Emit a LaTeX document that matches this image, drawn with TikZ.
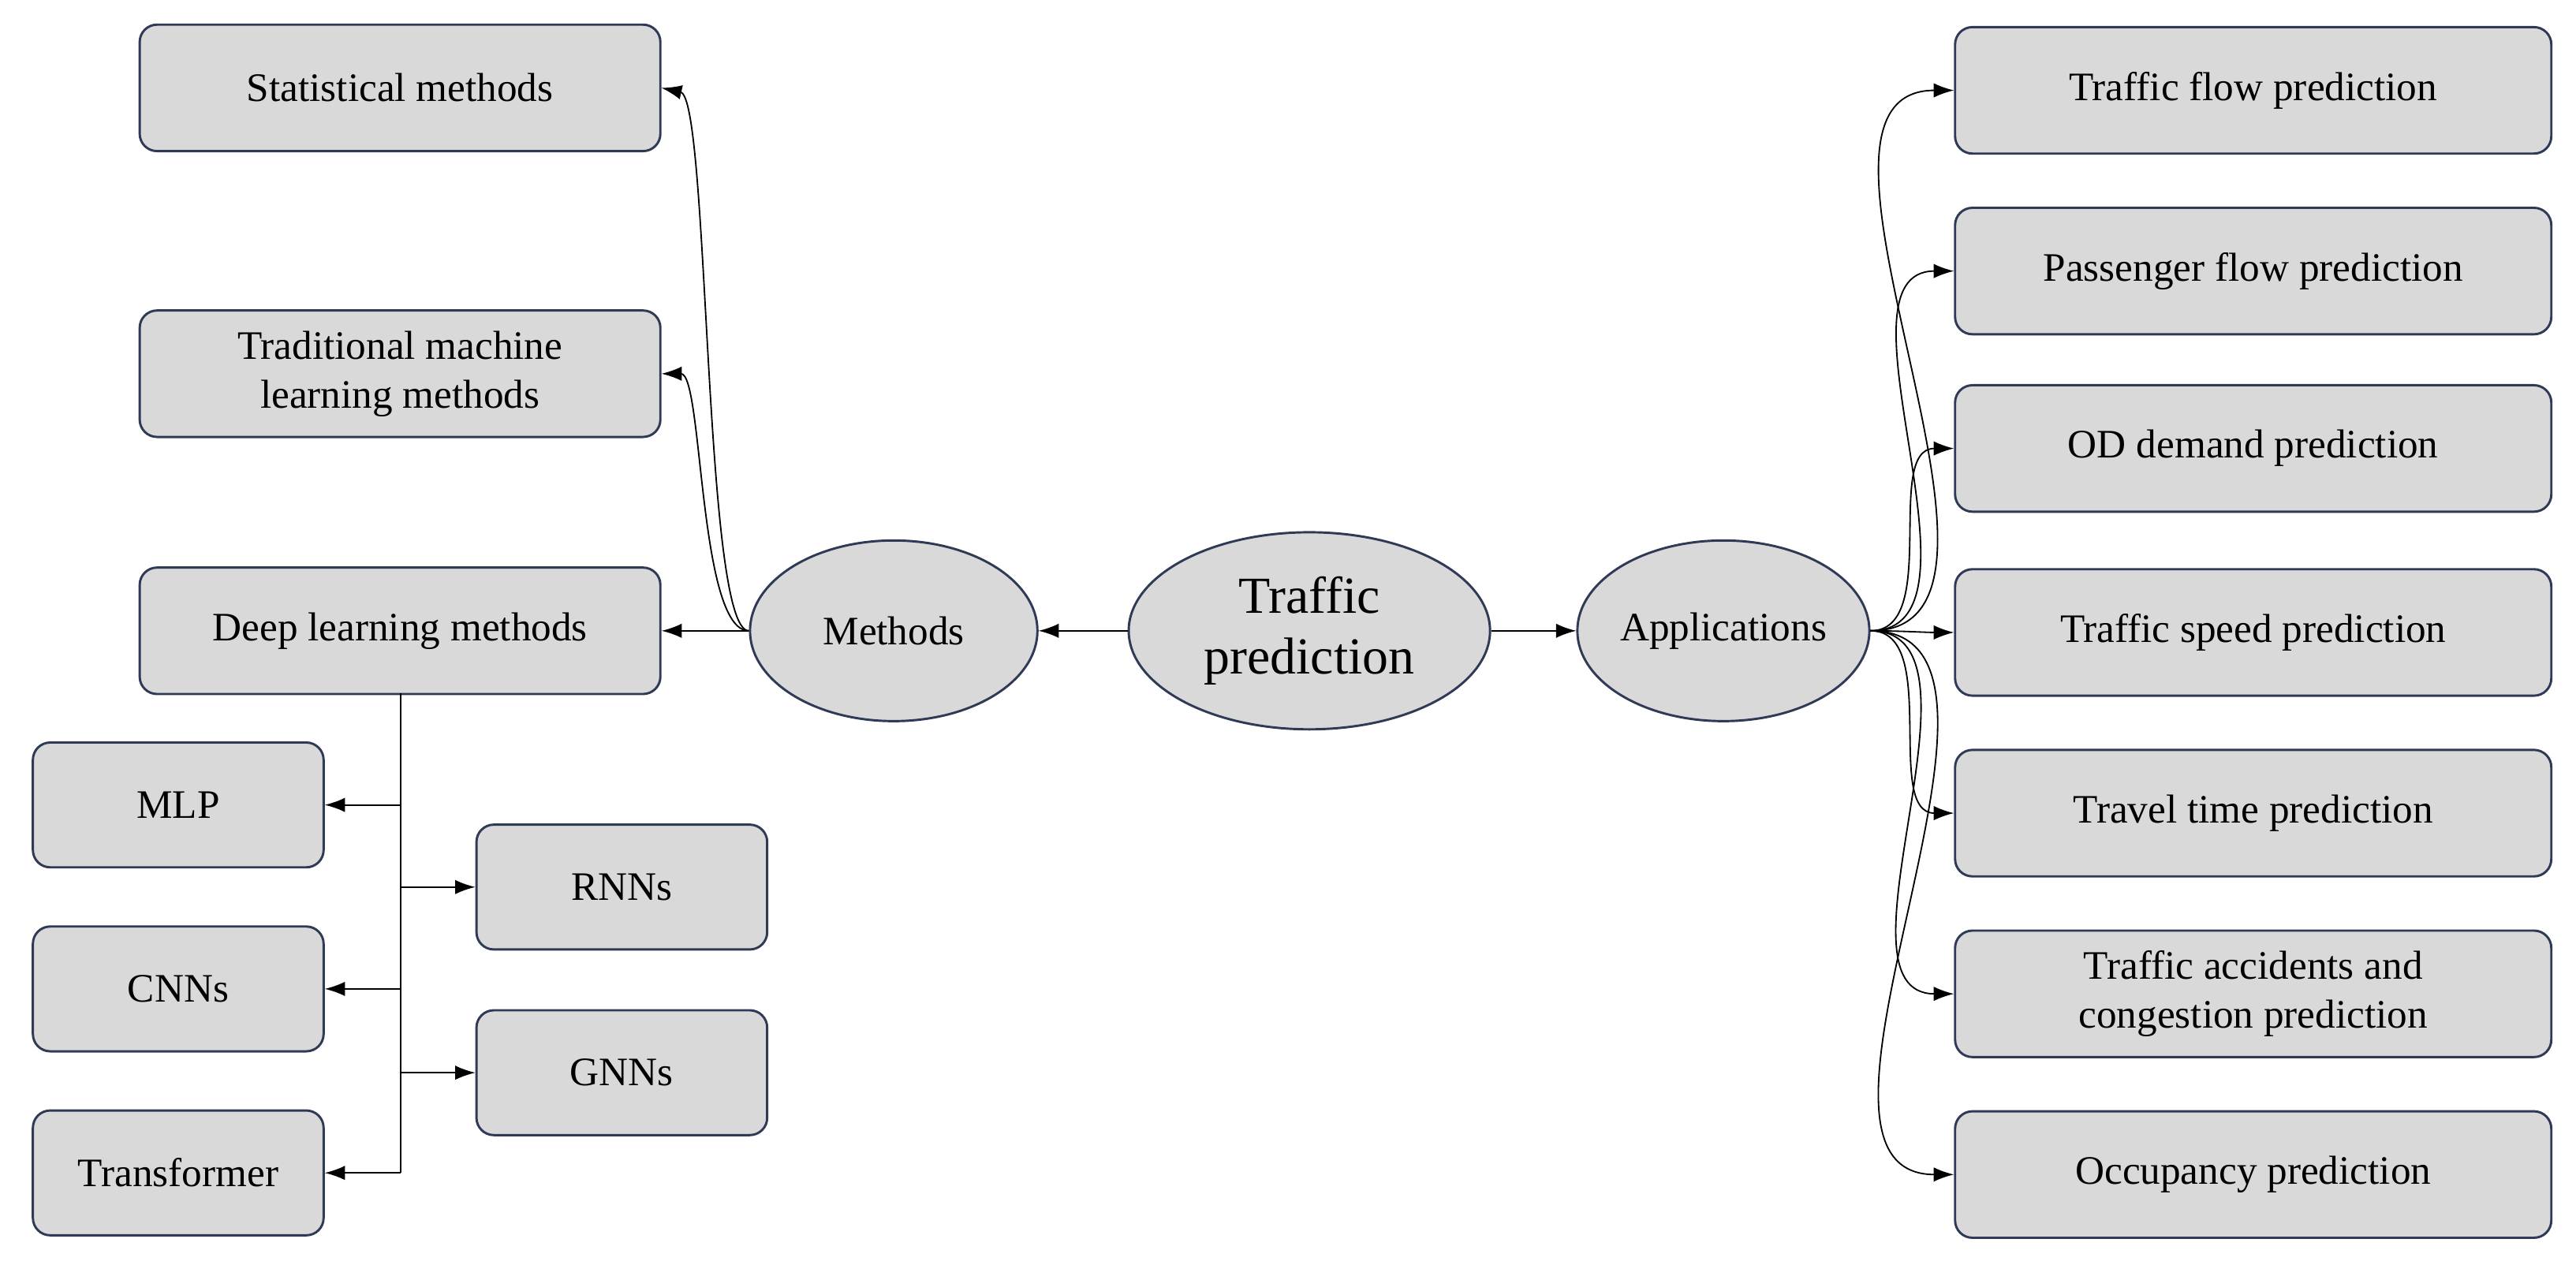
\documentclass[tikz,border=0pt]{standalone}
\usepackage{fontspec}
\setmainfont{Liberation Serif}
\usetikzlibrary{arrows.meta,shapes.geometric}
\definecolor{boxfill}{RGB}{217,217,217}
\definecolor{boxline}{RGB}{47,58,86}
\tikzset{
	box/.style={draw=boxline,fill=boxfill,rounded corners=6pt,line width=0.8pt,align=center,inner sep=0pt,font=\fontsize{14}{17}\selectfont},
	oval/.style={draw=boxline,fill=boxfill,ellipse,line width=0.8pt,align=center,inner sep=0pt,font=\fontsize{14}{17}\selectfont},
	arr/.style={-{Latex[length=7pt,width=5pt]},line width=0.5pt}
}
\begin{document}
\begin{tikzpicture}[x=0.02cm,y=-0.02cm]
	\useasboundingbox (0,0) rectangle (1568,770);

	\node[box,minimum width=6.34cm,minimum height=1.54cm] (stat) at (243.5,53.5) {Statistical methods};
	\node[box,minimum width=6.34cm,minimum height=1.54cm] (trad) at (243.5,227.5) {Traditional machine\\learning methods};
	\node[box,minimum width=6.34cm,minimum height=1.54cm] (deep) at (243.5,384) {Deep learning methods};

	\node[box,minimum width=3.54cm,minimum height=1.52cm] (mlp) at (108.5,490) {MLP};
	\node[box,minimum width=3.54cm,minimum height=1.52cm] (cnn) at (108.5,602) {CNNs};
	\node[box,minimum width=3.54cm,minimum height=1.52cm] (trans) at (108.5,714) {Transformer};
	\node[box,minimum width=3.54cm,minimum height=1.52cm] (rnn) at (378.5,540) {RNNs};
	\node[box,minimum width=3.54cm,minimum height=1.52cm] (gnn) at (378.5,653) {GNNs};

	\node[oval,minimum width=3.5cm,minimum height=2.2cm] (meth) at (544,384) {Methods};
	\node[oval,minimum width=4.4cm,minimum height=2.4cm,font=\fontsize{18}{21}\selectfont] (tp) at (797,384) {Traffic\\prediction};
	\node[oval,minimum width=3.5cm,minimum height=2.2cm] (app) at (1049,384) {Applications};

	\node[box,minimum width=7.26cm,minimum height=1.54cm] (a1) at (1371.5,55) {Traffic flow prediction};
	\node[box,minimum width=7.26cm,minimum height=1.54cm] (a2) at (1371.5,165) {Passenger flow prediction};
	\node[box,minimum width=7.26cm,minimum height=1.54cm] (a3) at (1371.5,273) {OD demand prediction};
	\node[box,minimum width=7.26cm,minimum height=1.54cm] (a4) at (1371.5,385) {Traffic speed prediction};
	\node[box,minimum width=7.26cm,minimum height=1.54cm] (a5) at (1371.5,495) {Travel time prediction};
	\node[box,minimum width=7.26cm,minimum height=1.54cm] (a6) at (1371.5,605) {Traffic accidents and\\congestion prediction};
	\node[box,minimum width=7.26cm,minimum height=1.54cm] (a7) at (1371.5,715) {Occupancy prediction};

	\coordinate (t0) at (244,422);
	\coordinate (t1) at (244,490);
	\coordinate (t2) at (244,540);
	\coordinate (t3) at (244,602);
	\coordinate (t4) at (244,653);
	\coordinate (t5) at (244,714);

	\draw[arr] (tp) -- (meth);
	\draw[arr] (tp) -- (app);
	\draw[arr] (meth) -- (deep);
	\draw[arr] (meth.west) .. controls (428,384) and (432,60) .. (stat.east);
	\draw[arr] (meth.west) .. controls (425,384) and (428,227.5) .. (trad.east);

	\draw[line width=0.5pt] (t0) -- (t5);
	\draw[arr] (t1) -- (mlp);
	\draw[arr] (t2) -- (rnn);
	\draw[arr] (t3) -- (cnn);
	\draw[arr] (t4) -- (gnn);
	\draw[arr] (t5) -- (trans);

	\foreach \n in {a1,a2,a3,a4,a5,a6,a7}
		\draw[arr] (app.east) to[out=0,in=180,looseness=0.9] (\n.west);
\end{tikzpicture}
\end{document}
